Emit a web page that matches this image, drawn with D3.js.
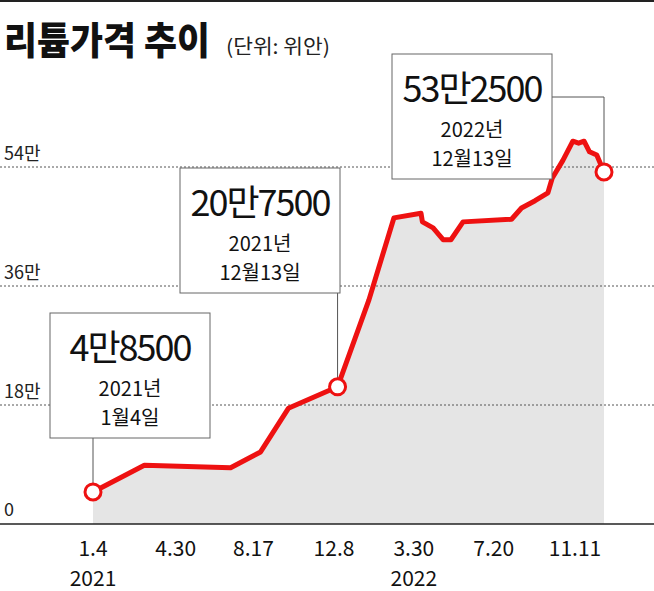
<!DOCTYPE html><html><head><meta charset="utf-8">
<script src="https://cdn.jsdelivr.net/npm/d3@7"></script>
<style>body{margin:0;background:#fff}text{font-family:"Noto Sans CJK KR","Noto Sans",sans-serif}</style></head><body>
<svg id="c" width="654" height="591"></svg>
<script>
const dates=["2021-01-04","2021-03-17","2021-07-16","2021-08-27","2021-10-05","2021-12-13","2022-01-26","2022-03-02","2022-04-09","2022-04-11","2022-04-26","2022-05-10","2022-05-21","2022-06-07","2022-08-14","2022-08-28","2022-09-16","2022-10-04","2022-10-10","2022-10-25","2022-11-08","2022-11-15","2022-11-21","2022-11-27","2022-12-05","2022-12-13"];
const values=[48500,89000,85000,109000,175000,207500,339000,463000,470000,457000,448000,430000,430000,457000,461000,478000,489000,501000,523000,550000,579000,576000,579000,563000,558000,532500];
const yTicks=[0,180000,360000,540000];
const yTickLabels=["0","18만","36만","54만"];
const xTickDates=["2021-01-04","2021-04-30","2021-08-17","2021-12-08","2022-03-30","2022-07-20","2022-11-11"];
const xTickLabels=["1.4","4.30","8.17","12.8","3.30","7.20","11.11"];
const notes=[{i:0,big:"4만8500",l1:"2021년",l2:"1월4일",bx:50,by:313,bw:160,bh:125},
{i:5,big:"20만7500",l1:"2021년",l2:"12월13일",bx:180,by:168,bw:160,bh:125},
{i:25,big:"53만2500",l1:"2022년",l2:"12월13일",bx:392,by:54,bw:160,bh:125}];
const P=d3.timeParse("%Y-%m-%d");
const data=dates.map((d,i)=>({d:P(d),v:values[i]}));
const svg=d3.select("#c");
const x=d3.scaleTime().domain([P("2021-01-04"),P("2022-11-11"),P("2022-12-13")]).range([93,575,604]);
const y=d3.scaleLinear().domain([0,540000]).range([524,167]);
svg.append("line").attr("x1",0).attr("x2",654).attr("y1",1).attr("y2",1).attr("stroke","#222").attr("stroke-width",2);
svg.append("text").attr("x",4).attr("y",54).attr("font-size",38).attr("font-weight",900).attr("fill","#111").attr("textLength",206).attr("lengthAdjust","spacingAndGlyphs").text("리튬가격 추이");
svg.append("text").attr("x",226).attr("y",54).attr("font-size",20).attr("fill","#222").attr("textLength",104).attr("lengthAdjust","spacingAndGlyphs").text("(단위: 위안)");
const area=d3.area().x(d=>x(d.d)).y0(y(0)).y1(d=>y(d.v));
svg.append("path").datum(data).attr("d",area).attr("fill","#e5e5e5");
yTicks.forEach((t,i)=>{ if(i>0) svg.append("line").attr("x1",0).attr("x2",654).attr("y1",y(t)).attr("y2",y(t)).attr("stroke","#555").attr("stroke-dasharray","2,2").attr("stroke-width",1);
 svg.append("text").attr("x",4).attr("y",y(t)-(i==0?8:7)).attr("font-size",18).attr("fill","#222").text(yTickLabels[i]);});
svg.append("line").attr("x1",0).attr("x2",654).attr("y1",y(0)).attr("y2",y(0)).attr("stroke","#222").attr("stroke-width",1.5);
xTickDates.forEach((d,i)=>{svg.append("text").attr("x",x(P(d))).attr("y",556).attr("text-anchor","middle").attr("font-size",21).attr("fill","#111").text(xTickLabels[i]);});
svg.append("text").attr("x",x(P("2021-01-04"))).attr("y",586).attr("text-anchor","middle").attr("font-size",21).attr("fill","#111").text("2021");
svg.append("text").attr("x",x(P("2022-03-30"))).attr("y",586).attr("text-anchor","middle").attr("font-size",21).attr("fill","#111").text("2022");
svg.append("path").datum(data).attr("d",d3.line().x(d=>x(d.d)).y(d=>y(d.v))).attr("fill","none").attr("stroke","#ee1111").attr("stroke-width",5).attr("stroke-linejoin","round");
notes.forEach(n=>{const p=data[n.i];const px=x(p.d),py=y(p.v);
 if(n.i==25){svg.append("polyline").attr("points",`${n.bx+n.bw},${n.by+43} ${px},${n.by+43} ${px},${py}`).attr("fill","none").attr("stroke","#555");}
 else svg.append("line").attr("x1",px).attr("x2",px).attr("y1",n.by+n.bh).attr("y2",py).attr("stroke","#555");
 svg.append("rect").attr("x",n.bx).attr("y",n.by).attr("width",n.bw).attr("height",n.bh).attr("fill","#fff").attr("stroke","#666");
 const cx=n.bx+n.bw/2;
 svg.append("text").attr("x",cx).attr("y",n.by+48).attr("text-anchor","middle").attr("font-size",36).attr("letter-spacing",-2).attr("fill","#111").text(n.big);
 svg.append("text").attr("x",cx).attr("y",n.by+83).attr("text-anchor","middle").attr("font-size",20).attr("fill","#111").text(n.l1);
 svg.append("text").attr("x",cx).attr("y",n.by+112).attr("text-anchor","middle").attr("font-size",20).attr("fill","#111").text(n.l2);
 svg.append("circle").attr("cx",px).attr("cy",py).attr("r",8).attr("fill","#fff").attr("stroke","#ee1111").attr("stroke-width",3);});
</script></body></html>
